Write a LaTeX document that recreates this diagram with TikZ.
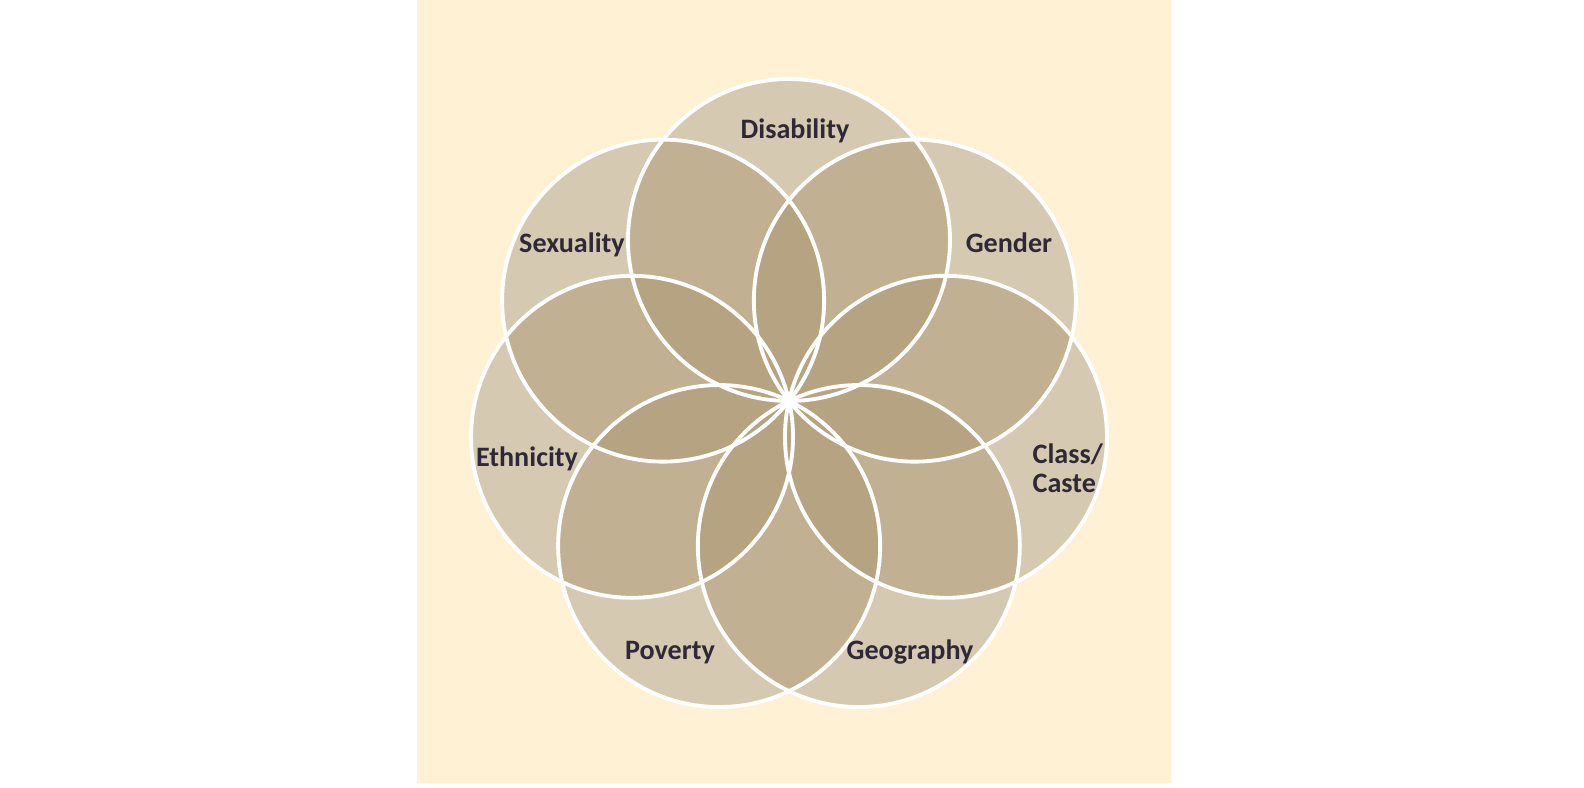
\documentclass[tikz,border=0pt]{standalone}
\usepackage{fontspec}
\setmainfont{Carlito}
\usetikzlibrary{calc}
\definecolor{paper}{RGB}{254,241,212}
\definecolor{one}{RGB}{214,201,177}
\definecolor{two}{RGB}{193,176,145}
\definecolor{three}{RGB}{182,163,129}
\definecolor{ink}{RGB}{47,40,54}
\tikzstyle{ring}=[draw=white,line width=1.1pt]
\tikzstyle{weight}=[font=\fontsize{8}{8.3}\selectfont\bfseries,text=ink,inner sep=0pt]

\begin{document}
\begin{tikzpicture}

  \def\r{1.61};
  \useasboundingbox (-7.89,-3.87) rectangle (7.95,4.01);
  \fill[paper] (-3.72,-3.82) rectangle (3.82,4.01);

  \foreach \i in {0,...,6}
     \coordinate (c\i) at ({90-\i*360/7}:\r);

  \foreach \i in {0,...,6}
     \fill[one] (c\i) circle (\r);

  % two sets meet
  \foreach \i in {0,...,6}
    \foreach \j in {0,...,6} {
      \ifnum\i<\j
      \begin{scope}
        \clip (c\i) circle (\r);
        \fill[two] (c\j) circle (\r);
      \end{scope}
      \fi
    }

  % three sets meet
  \foreach \i in {0,...,6}
    \foreach \j in {0,...,6}
      \foreach \k in {0,...,6} {
        \ifnum\i<\j \ifnum\j<\k
        \begin{scope}
          \clip (c\i) circle (\r);
          \clip (c\j) circle (\r);
          \fill[three] (c\k) circle (\r);
        \end{scope}
        \fi\fi
      }

  \foreach \i in {0,...,6}
     \draw[ring] (c\i) circle (\r);

  \foreach \x/\y/\name/\label in {0.06/2.62/dis/Disability, 2.20/1.48/gen/Gender, -2.17/1.48/sex/Sexuality, -2.62/-0.66/eth/Ethnicity, -1.19/-2.59/pov/Poverty, 1.21/-2.59/geo/Geography}
     \node[weight, anchor=base] (\name) at (\x,\y) {\label};

  \node[weight, anchor=west, align=left] (cls) at (2.43,-0.67) {Class/\\Caste};

\end{tikzpicture}
\end{document}
